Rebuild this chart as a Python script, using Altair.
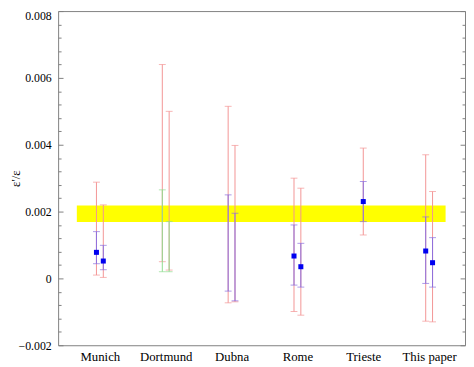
import altair as alt
import pandas as pd

# ---- data ----
labels = ["Munich", "Dortmund", "Dubna", "Rome", "Trieste", "This paper"]
label_pos = [1, 2, 3, 4, 5, 6]
xpos = [0.948, 1.052, 1.948, 2.052, 2.948, 3.052, 3.948, 4.052, 5.0, 5.948, 6.052]
center = [0.00078, 0.00052, None, None, None, None, 0.00067, 0.00035, 0.0023, 0.00082, 0.00047]
inner_lo = [0.00044, 0.00026, 0.0002, 0.0002, -0.00038, -0.00067, -0.0002, -0.00026, 0.0017, -0.00015, -0.00026]
inner_hi = [0.0014, 0.00099, 0.00265, 0.0017, 0.0025, 0.00195, 0.0016, 0.00105, 0.0029, 0.00184, 0.00122]
outer_lo = [0.0001, 0.00003, 0.0005, 0.00025, -0.00073, -0.0007, -0.00099, -0.0011, 0.0013, -0.00128, -0.0013]
outer_hi = [0.00288, 0.0022, 0.0064, 0.0050, 0.00515, 0.00398, 0.0030, 0.0027, 0.0039, 0.0037, 0.0026]
inner_kind = ["stat", "stat", "alt", "alt", "stat", "stat", "stat", "stat", "stat", "stat", "stat"]
band_x = [0.65, 6.25]
band_y = [0.00169, 0.00218]

major_ticks = [-0.002, 0.0, 0.002, 0.004, 0.006, 0.008]
minor_ticks = [round(-0.002 + 0.0004 * i, 4) for i in range(26) if i % 5 != 0]

# ---- tables ----
df = pd.DataFrame({
    "x": xpos, "c": center, "ilo": inner_lo, "ihi": inner_hi,
    "olo": outer_lo, "ohi": outer_hi, "kind": inner_kind,
})
df["okind"] = "sys"
pts = df.dropna(subset=["c"])
caps_outer = pd.concat([
    pd.DataFrame({"x": df["x"], "y": df["olo"], "kind": df["okind"]}),
    pd.DataFrame({"x": df["x"], "y": df["ohi"], "kind": df["okind"]}),
])
caps_inner = pd.concat([
    pd.DataFrame({"x": df["x"], "y": df["ilo"], "kind": df["kind"]}),
    pd.DataFrame({"x": df["x"], "y": df["ihi"], "kind": df["kind"]}),
])
band_df = pd.DataFrame({"x0": [band_x[0]], "x1": [band_x[1]], "y0": [band_y[0]], "y1": [band_y[1]]})

SERIF = "Liberation Serif"
GRAY = "#808080"
xscale = alt.Scale(domain=[0.366, 6.545], nice=False, zero=False)
yscale = alt.Scale(domain=[-0.002, 0.008], nice=False, zero=False)
cscale = alt.Scale(domain=["sys", "stat", "alt"], range=["#f39494", "#8a6ee0", "#90dc90"])

x_axis = alt.Axis(
    values=label_pos, title=None, ticks=False, domain=False, grid=False,
    labelExpr="['Munich','Dortmund','Dubna','Rome','Trieste','This paper'][datum.value-1]",
    labelFont=SERIF, labelFontSize=13, labelColor="black", labelPadding=6,
)
y_label_axis = alt.Axis(
    orient="left", values=major_ticks, ticks=False, tickSize=0, domain=False, grid=False,
    labelExpr="datum.value == 0 ? '0' : format(datum.value, '.3f')",
    labelFont=SERIF, labelFontSize=12, labelColor="black", labelPadding=7,
    labelOffset={"condition": {"test": "datum.value >= 0.008", "value": 5}, "value": 0},
    title="ε'/ε", titleFont=SERIF, titleFontSize=13, titleFontWeight="normal",
    titleColor="black", titleX=-43, titleBaseline="middle",
)


def tick_axis(orient, vals, size):
    return alt.Axis(
        orient=orient, values=vals, labels=False, domain=False, grid=False, title=None,
        ticks=True, tickSize=size, offset=-size, tickColor=GRAY, tickWidth=1,
    )


band = alt.Chart(band_df).mark_rect(color="#ffff00").encode(
    x=alt.X("x0:Q", scale=xscale, axis=x_axis),
    x2="x1",
    y=alt.Y("y0:Q", scale=yscale, axis=y_label_axis),
    y2="y1",
)

outer_rules = alt.Chart(df).mark_rule(strokeWidth=1).encode(
    x=alt.X("x:Q", scale=xscale, axis=None),
    y=alt.Y("olo:Q", scale=yscale, axis=tick_axis("left", major_ticks, 5)),
    y2="ohi",
    color=alt.Color("okind:N", scale=cscale, legend=None),
)
outer_caps = alt.Chart(caps_outer).mark_tick(orient="horizontal", size=7, thickness=1).encode(
    x=alt.X("x:Q", scale=xscale, axis=None),
    y=alt.Y("y:Q", scale=yscale, axis=tick_axis("left", minor_ticks, 3)),
    color=alt.Color("kind:N", scale=cscale, legend=None),
)
inner_rules = alt.Chart(df).mark_rule(strokeWidth=1).encode(
    x=alt.X("x:Q", scale=xscale, axis=None),
    y=alt.Y("ilo:Q", scale=yscale, axis=tick_axis("right", major_ticks, 5)),
    y2="ihi",
    color=alt.Color("kind:N", scale=cscale, legend=None),
)
inner_caps = alt.Chart(caps_inner).mark_tick(orient="horizontal", size=7, thickness=1).encode(
    x=alt.X("x:Q", scale=xscale, axis=None),
    y=alt.Y("y:Q", scale=yscale, axis=tick_axis("right", minor_ticks, 3)),
    color=alt.Color("kind:N", scale=cscale, legend=None),
)
points = alt.Chart(pts).mark_square(size=26, color="#0000f0", opacity=1).encode(
    x=alt.X("x:Q", scale=xscale, axis=None),
    y=alt.Y("c:Q", scale=yscale, axis=None),
)

chart = alt.layer(band, outer_rules, outer_caps, inner_rules, inner_caps, points).resolve_axis(
    x="independent", y="independent"
).resolve_scale(x="shared", y="shared").properties(
    width=414, height=340,
    autosize=alt.AutoSizeParams(type="none"),
    padding={"left": 51, "top": 0, "right": 1, "bottom": 19},
).configure_view(stroke=GRAY, strokeWidth=1)

chart.save("out.html", embed_options={"renderer": "svg", "actions": False})
